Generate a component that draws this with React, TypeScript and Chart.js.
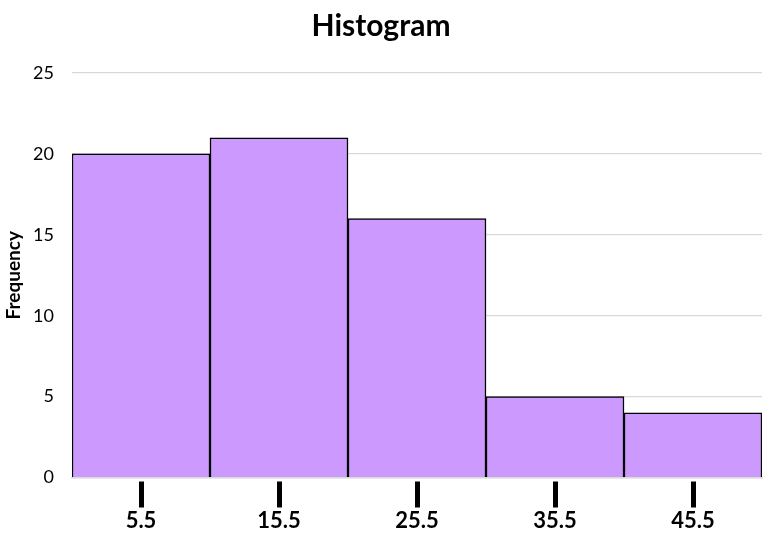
import { useEffect, useRef } from 'react';
import { Chart, registerables } from 'chart.js';

Chart.register(...registerables);

const binLabels = ['5.5', '15.5', '25.5', '35.5', '45.5'];
const frequencies = [20, 21, 16, 5, 4];

const FONT = 'Lato, "Open Sans", sans-serif';

export default function App() {
  const canvasRef = useRef<HTMLCanvasElement | null>(null);

  useEffect(() => {
    document.body.style.margin = '0';
    if (!canvasRef.current) return;

    const chart = new Chart(canvasRef.current, {
      type: 'bar',
      data: {
        labels: binLabels,
        datasets: [
          {
            data: frequencies,
            backgroundColor: '#CC99FF',
            borderColor: '#000000',
            borderWidth: 1.5,
            categoryPercentage: 1,
            barPercentage: 1,
          },
        ],
      },
      options: {
        animation: false,
        responsive: false,
        maintainAspectRatio: false,
        layout: { padding: { top: 4, right: 6, left: 0, bottom: 11 } },
        plugins: {
          legend: { display: false },
          tooltip: { enabled: false },
          title: {
            display: true,
            text: 'Histogram',
            color: '#000',
            font: { family: FONT, size: 30, weight: 'bold' },
            padding: { top: 4, bottom: 29 },
          },
        },
        scales: {
          x: {
            offset: true,
            border: { display: true, color: '#d9d9d9', width: 1.5 },
            grid: {
              offset: false,
              drawOnChartArea: false,
              drawTicks: true,
              tickLength: 30,
              tickWidth: 5,
              tickColor: '#000',
              tickBorderDash: [0, 3, 27, 1000],
            },
            ticks: {
              color: '#000',
              padding: 0,
              font: { family: FONT, size: 22, weight: 'bold' },
            },
          },
          y: {
            min: 0,
            max: 25,
            border: { display: false },
            grid: { color: '#d9d9d9', lineWidth: 1.2, drawTicks: false },
            afterFit: (scale) => {
              scale.width = 72;
            },
            ticks: {
              stepSize: 5,
              color: '#000',
              padding: 18,
              font: { family: FONT, size: 18 },
            },
            title: {
              display: true,
              text: 'Frequency',
              color: '#000',
              font: { family: FONT, size: 19, weight: 'bold' },
              padding: { top: 2, bottom: 8 },
            },
          },
        },
      },
    });

    return () => chart.destroy();
  }, []);

  return (
    <div style={{ width: 768, height: 545, background: '#fff' }}>
      <canvas ref={canvasRef} width={768} height={545} />
    </div>
  );
}
